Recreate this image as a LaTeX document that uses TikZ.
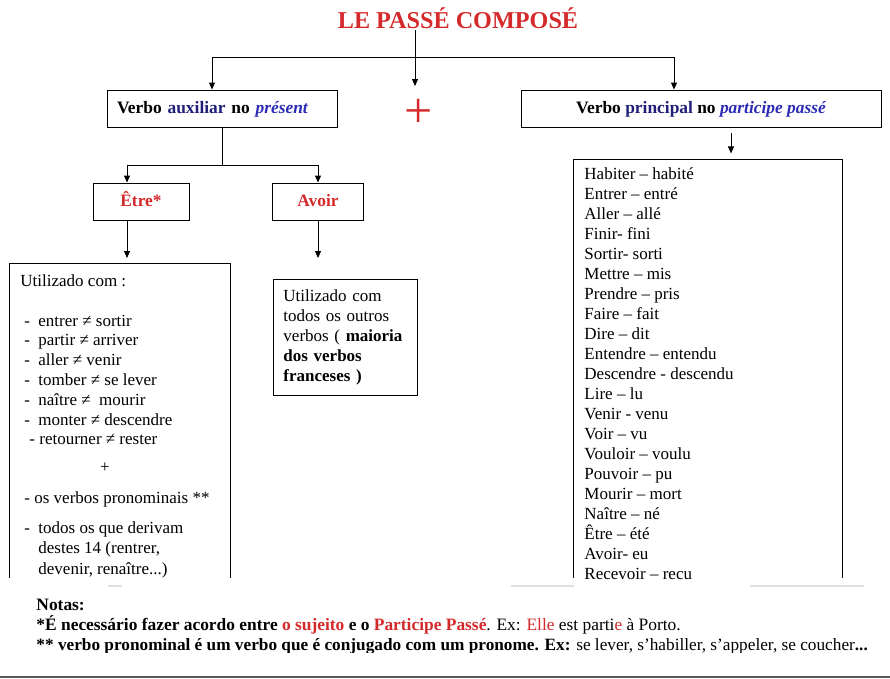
\documentclass[tikz,border=0pt]{standalone}
\usepackage{fontspec}
\setmainfont{Liberation Serif}
\usetikzlibrary{positioning,arrows.meta}
\definecolor{titlered}{HTML}{D42A2C}
\definecolor{navy}{HTML}{1F1F7A}
\definecolor{royal}{HTML}{2B2BB5}
\newcommand{\dash}{\makebox[14pt][l]{-}}

\begin{document}
\begin{tikzpicture}[x=1pt,y=-1pt,line width=0.9pt,
    arr/.style={-{Triangle[length=7pt,width=6pt]}},
    box/.style={draw,minimum height=37pt,inner sep=0pt,text height=12pt,text depth=3pt,
        font=\fontsize{17.4}{20}\selectfont\bfseries},
    txt/.style={anchor=base west,inner sep=0pt,font=\fontsize{17}{20}\selectfont},
    note/.style={anchor=base west,inner sep=0pt,font=\fontsize{17.4}{20}\selectfont}]
    \useasboundingbox (0,0) rectangle (890,678);

    % title and the two halves
    \node[font=\fontsize{24.2}{26}\selectfont\bfseries, text=titlered] (title) at (458,18) {LE PASSÉ COMPOSÉ};
    \node[box, minimum width=230pt, text width=210pt, align=left] (aux) at (222,108.5)
        {Verbo \textcolor{navy}{auxiliar} no \textcolor{royal}{\itshape présent}};
    \node[text=titlered, font=\fontsize{50}{50}\selectfont] (plus) at (419,113) {+};
    \node[box, minimum width=360pt] (prin) at (701,108.5)
        {Verbo \textcolor{navy}{principal} no \textcolor{royal}{\itshape participe passé}};

    \coordinate (top) at (415,30);
    \coordinate (fork) at (415,57);
    \coordinate (plustip) at (415,86);
    \coordinate (lfork) at (212,57);
    \coordinate (rfork) at (674,57);
    \draw[arr] (top) -- (plustip);
    \draw (lfork) -- (rfork);
    \draw[arr] (lfork) -- (lfork |- aux.north);
    \draw[arr] (rfork) -- (rfork |- prin.north);

    % etre / avoir
    \node[box, text=titlered, minimum width=96pt] (etre) at (141,201.5) {Être*};
    \node[box, text=titlered, minimum width=91pt] (avoir) at (318,201.5) {Avoir};
    \coordinate (auxdown) at (222,165);
    \draw (aux.south) -- (auxdown);
    \draw[arr] (auxdown) -| ([xshift=-14pt]etre.north);
    \draw[arr] (auxdown) -| (avoir.north);
    \coordinate (etretip) at (127,258);
    \coordinate (avoirtip) at (318,258);
    \draw[arr] ([xshift=-14pt]etre.south) -- (etretip);
    \draw[arr] (avoir.south) -- (avoirtip);

    % list for etre
    \draw (9,578) |- (230,263) -- (230,578);
    \node[txt] (com) at (20,286) {Utilizado com :};
    \foreach \t [count=\i from 0] in {entrer ≠ sortir, partir ≠ arriver, aller ≠ venir,
        tomber ≠ se lever, naître ≠\ \ mourir, monter ≠ descendre}
        \node[txt] (pair\i) at (24,326+19.8*\i) {\dash\t};
    \node[txt] (pair6) at (29,444) {- retourner ≠ rester};
    \node[txt, anchor=base] (and) at (105,472) {+};
    \node[txt] (pron) at (24,503) {- os verbos pronominais **};
    \node[txt] (deriv) at (24,533) {\dash todos os que derivam};
    \node[txt] (deriv2) at (38,553) {destes 14 (rentrer,};
    \node[txt] (deriv3) at (38,574) {devenir, renaître...)};

    % text for avoir
    \node[draw, anchor=north west, minimum width=144pt, minimum height=116pt, text width=124pt,
        inner xsep=10pt, align=left, font=\fontsize{17}{20.2}\selectfont] (outros) at (273,279)
        {Utilizado com\\ todos os outros\\ verbos ( \textbf{maioria}\\ \textbf{dos verbos}\\ \textbf{franceses )}};

    % participles
    \draw[arr] ([xshift=30pt,yshift=-6pt]prin.south) -- ++(0,20);
    \draw (573,578) |- (842,159) -- (842,578);
    \foreach \v [count=\i from 0] in {Habiter – habité, Entrer – entré, Aller – allé, Finir- fini,
        Sortir- sorti, Mettre – mis, Prendre – pris, Faire – fait, Dire – dit, Entendre – entendu,
        Descendre - descendu, Lire – lu, Venir - venu, Voir – vu, Vouloir – voulu, Pouvoir – pu,
        Mourir – mort, Naître – né, Être – été, Avoir- eu, Recevoir – recu}
        \node[txt] (part\i) at (584,179+20*\i) {\v};

    % leftover rules
    \draw[gray!25, line width=1.5pt] (108,586) -- (122,586) (511,586) -- (574,586) (750,586) -- (864,586);

    % notes
    \node[note] (notas) at (36,610) {\bfseries Notas:};
    \node[note] (note1) at (36,630) {\textbf{*É necessário fazer acordo entre \textcolor{titlered}{o sujeito}
        e o \textcolor{titlered}{Participe Passé}}. Ex: \textcolor{titlered}{Elle} est parti\textcolor{titlered}{e} à Porto.};
    \begin{scope}
        \clip (0,600) rectangle (890,652);
        \node[note, font=\fontsize{17.25}{20}\selectfont] (note2) at (36,650) {\textbf{** verbo pronominal é um verbo que é conjugado com um pronome. Ex:}
            se lever, s’habiller, s’appeler, se coucher\textbf{...}};
    \end{scope}
    \draw[line width=2pt, black!65] (0,676.5) -- (890,676.5);
\end{tikzpicture}
\end{document}
